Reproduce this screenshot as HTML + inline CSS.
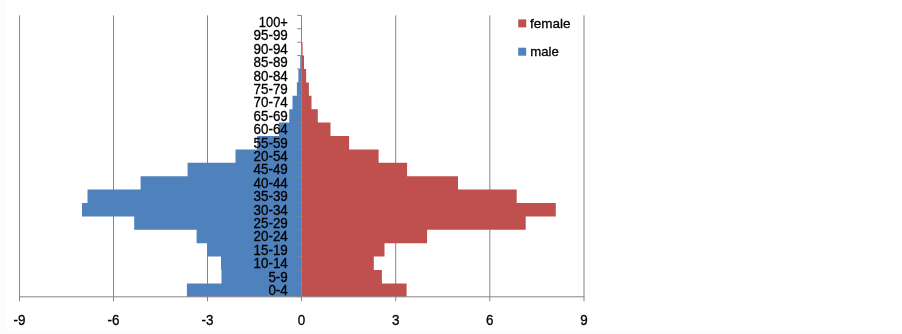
<!DOCTYPE html><html><head><meta charset="utf-8"><title>chart</title><style>html,body{margin:0;padding:0;background:#fff}svg{display:block}text{font-family:"Liberation Sans",sans-serif;fill:#000;stroke:#000;stroke-width:.3px}</style></head><body>
<svg width="902" height="334" viewBox="0 0 902 334">
<rect width="902" height="334" fill="#fff"/>
<rect width="6.5" height="334" fill="#fcfcfc"/><rect y="333.2" width="902" height="0.8" fill="#fcfcfc"/>
<rect x="19.0" y="15.4" width="1" height="285.9" fill="#868686"/>
<rect x="113.0" y="15.4" width="1" height="285.9" fill="#868686"/>
<rect x="207.0" y="15.4" width="1" height="285.9" fill="#868686"/>
<rect x="395.2" y="15.4" width="1" height="285.9" fill="#868686"/>
<rect x="489.3" y="15.4" width="1" height="285.9" fill="#868686"/>
<rect x="583.5" y="15.4" width="1" height="285.9" fill="#868686"/>
<path d="M302.0 55.6H300.2V69.0H298.4V82.4H296.9V95.8H292.5V109.2H289.3V122.6H278.9V136.0H257.2V149.4H235.5V162.8H187.6V176.2H140.6V189.6H87.5V203.0H82.0V216.4H134.2V229.8H196.6V243.2H207.4V256.6H221.0V270.0H221.5V283.4H186.9V296.8H302.0Z" fill="#4F81BD"/>
<rect x="301.0" y="15.4" width="1" height="285.9" fill="#868686"/>
<rect x="297.2" y="14.9" width="4.3" height="1" fill="#868686"/>
<rect x="297.2" y="28.3" width="4.3" height="1" fill="#868686"/>
<rect x="297.2" y="41.7" width="4.3" height="1" fill="#868686"/>
<rect x="297.2" y="55.1" width="4.3" height="1" fill="#868686"/>
<rect x="297.2" y="68.5" width="4.3" height="1" fill="#868686"/>
<rect x="297.2" y="81.9" width="4.3" height="1" fill="#868686"/>
<rect x="297.2" y="95.3" width="4.3" height="1" fill="#868686"/>
<rect x="297.2" y="108.7" width="4.3" height="1" fill="#868686"/>
<rect x="297.2" y="122.1" width="4.3" height="1" fill="#868686"/>
<rect x="297.2" y="135.5" width="4.3" height="1" fill="#868686"/>
<rect x="297.2" y="148.9" width="4.3" height="1" fill="#868686"/>
<rect x="297.2" y="162.3" width="4.3" height="1" fill="#868686"/>
<rect x="297.2" y="175.7" width="4.3" height="1" fill="#868686"/>
<rect x="297.2" y="189.1" width="4.3" height="1" fill="#868686"/>
<rect x="297.2" y="202.5" width="4.3" height="1" fill="#868686"/>
<rect x="297.2" y="215.9" width="4.3" height="1" fill="#868686"/>
<rect x="297.2" y="229.3" width="4.3" height="1" fill="#868686"/>
<rect x="297.2" y="242.7" width="4.3" height="1" fill="#868686"/>
<rect x="297.2" y="256.1" width="4.3" height="1" fill="#868686"/>
<rect x="297.2" y="269.5" width="4.3" height="1" fill="#868686"/>
<rect x="297.2" y="282.9" width="4.3" height="1" fill="#868686"/>
<rect x="297.2" y="296.3" width="4.3" height="1" fill="#868686"/>
<path d="M302.0 42.2H302.6V55.6H304.0V69.0H306.1V82.4H308.9V95.8H311.5V109.2H317.8V122.6H330.5V136.0H349.1V149.4H378.6V162.8H407.1V176.2H458.0V189.6H516.7V203.0H555.8V216.4H525.7V229.8H427.1V243.2H384.5V256.6H373.8V270.0H381.9V283.4H406.6V296.8H302.0Z" fill="#C0504D"/>
<rect x="19" y="296.3" width="565.5" height="1" fill="#868686"/>
<text transform="translate(287.8 26.9) scale(0.905 1)" font-size="14.2" text-anchor="end">100+</text>
<text transform="translate(287.8 40.3) scale(0.945 1)" font-size="14.2" text-anchor="end">95-99</text>
<text transform="translate(287.8 53.7) scale(0.945 1)" font-size="14.2" text-anchor="end">90-94</text>
<text transform="translate(287.8 67.1) scale(0.945 1)" font-size="14.2" text-anchor="end">85-89</text>
<text transform="translate(287.8 80.5) scale(0.945 1)" font-size="14.2" text-anchor="end">80-84</text>
<text transform="translate(287.8 93.9) scale(0.945 1)" font-size="14.2" text-anchor="end">75-79</text>
<text transform="translate(287.8 107.3) scale(0.945 1)" font-size="14.2" text-anchor="end">70-74</text>
<text transform="translate(287.8 120.7) scale(0.945 1)" font-size="14.2" text-anchor="end">65-69</text>
<text transform="translate(287.8 134.1) scale(0.945 1)" font-size="14.2" text-anchor="end">60-64</text>
<text transform="translate(287.8 147.5) scale(0.945 1)" font-size="14.2" text-anchor="end">55-59</text>
<text transform="translate(287.8 160.9) scale(0.945 1)" font-size="14.2" text-anchor="end">20-54</text>
<text transform="translate(287.8 174.3) scale(0.945 1)" font-size="14.2" text-anchor="end">45-49</text>
<text transform="translate(287.8 187.7) scale(0.945 1)" font-size="14.2" text-anchor="end">40-44</text>
<text transform="translate(287.8 201.1) scale(0.945 1)" font-size="14.2" text-anchor="end">35-39</text>
<text transform="translate(287.8 214.5) scale(0.945 1)" font-size="14.2" text-anchor="end">30-34</text>
<text transform="translate(287.8 227.9) scale(0.945 1)" font-size="14.2" text-anchor="end">25-29</text>
<text transform="translate(287.8 241.3) scale(0.945 1)" font-size="14.2" text-anchor="end">20-24</text>
<text transform="translate(287.8 254.7) scale(0.945 1)" font-size="14.2" text-anchor="end">15-19</text>
<text transform="translate(287.8 268.1) scale(0.945 1)" font-size="14.2" text-anchor="end">10-14</text>
<text transform="translate(287.8 281.5) scale(0.945 1)" font-size="14.2" text-anchor="end">5-9</text>
<text transform="translate(287.8 294.9) scale(0.945 1)" font-size="14.2" text-anchor="end">0-4</text>
<text transform="translate(19.5 324.9) scale(.945 1)" font-size="14.2" text-anchor="middle">-9</text>
<text transform="translate(113.5 324.9) scale(.945 1)" font-size="14.2" text-anchor="middle">-6</text>
<text transform="translate(207.5 324.9) scale(.945 1)" font-size="14.2" text-anchor="middle">-3</text>
<text transform="translate(301.5 324.9) scale(.945 1)" font-size="14.2" text-anchor="middle">0</text>
<text transform="translate(395.7 324.9) scale(.945 1)" font-size="14.2" text-anchor="middle">3</text>
<text transform="translate(489.8 324.9) scale(.945 1)" font-size="14.2" text-anchor="middle">6</text>
<text transform="translate(584.0 324.9) scale(.945 1)" font-size="14.2" text-anchor="middle">9</text>
<rect x="518.2" y="19.4" width="8" height="8" fill="#C0504D"/>
<text x="530" y="27.5" font-size="13.4" textLength="40.5" lengthAdjust="spacingAndGlyphs">female</text>
<rect x="518.2" y="47.7" width="8" height="8" fill="#4F81BD"/>
<text x="530.3" y="55.6" font-size="13.4" textLength="28.5" lengthAdjust="spacingAndGlyphs">male</text>
</svg></body></html>
